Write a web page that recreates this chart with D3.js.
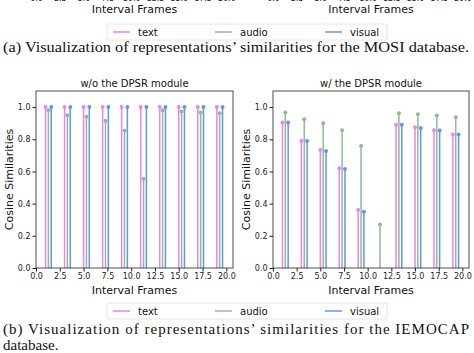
<!DOCTYPE html>
<html>
<head>
<meta charset="utf-8">
<script src="https://cdn.jsdelivr.net/npm/d3@7"></script>
<style>
body{margin:0;background:#fff;}
svg{display:block;}
.tick text{font-family:"DejaVu Sans",sans-serif;font-size:8px;fill:#222;}
.tick line{stroke:#222;}
.lab{font-family:"DejaVu Sans",sans-serif;fill:#111;}
.cap{font-family:"Liberation Serif","DejaVu Serif",serif;fill:#111;}
</style>
</head>
<body>
<svg id="fig" width="474" height="353"></svg>
<script>
var frames=[1,3,5,7,9,11,13,15,17,19];
var modalities=["text","audio","visual"];
var colors={text:"#ee82ee",audio:"#8fbc8f",visual:"#6495ed"};
var offsets={text:0,audio:0.3,visual:0.6};

// w/o the DPSR module
var woText  =[1,1,1,1,1,1,1,1,1,1];
var woAudio =[0.98,0.95,0.94,0.915,0.855,0.555,0.98,0.973,0.967,0.962];
var woVisual=[1,1,1,1,1,1,1,1,1,1];
// w/ the DPSR module
var wText  =[0.905,0.79,0.733,0.62,0.36,null,0.89,0.875,0.856,0.83];
var wAudio =[0.967,0.925,0.9,0.856,0.758,0.27,0.962,0.956,0.948,0.937];
var wVisual=[0.905,0.79,0.727,0.615,0.35,null,0.89,0.87,0.854,0.83];

var xTicks=[0,2.5,5,7.5,10,12.5,15,17.5,20];
var yTicks=[0,0.2,0.4,0.6,0.8,1.0];

var svg=d3.select("#fig");
var fmt=d3.format(".1f");

function panel(left,right,title,series){
	var top=91,bottom=268;
	var x=d3.scaleLinear().domain([0,20.7]).range([left,right]);
	var y=d3.scaleLinear().domain([0,1.1]).range([bottom,top]);
	var g=svg.append("g");

	modalities.forEach(function(m){
		var pts=[];
		series[m].forEach(function(v,i){ if(v!==null) pts.push({x:frames[i]+offsets[m],v:v}); });
		g.selectAll(".stem-"+m).data(pts).enter().append("line")
			.attr("x1",function(d){return x(d.x);}).attr("x2",function(d){return x(d.x);})
			.attr("y1",y(0)).attr("y2",function(d){return y(d.v);})
			.attr("stroke",colors[m]).attr("stroke-width",1.5);
		g.selectAll(".dot-"+m).data(pts).enter().append("circle")
			.attr("cx",function(d){return x(d.x);}).attr("cy",function(d){return y(d.v);})
			.attr("r",2).attr("fill",colors[m]);
	});

	g.append("rect").attr("x",left).attr("y",top).attr("width",right-left).attr("height",bottom-top)
		.attr("fill","none").attr("stroke","#222").attr("stroke-width",0.8);

	g.append("g").attr("transform","translate(0,"+bottom+")")
		.call(d3.axisBottom(x).tickValues(xTicks).tickFormat(fmt).tickSize(3.5).tickSizeOuter(0).tickPadding(2))
		.call(function(a){a.select(".domain").remove();});
	g.append("g").attr("transform","translate("+left+",0)")
		.call(d3.axisLeft(y).tickValues(yTicks).tickFormat(fmt).tickSize(3.5).tickSizeOuter(0).tickPadding(2))
		.call(function(a){a.select(".domain").remove();});

	g.append("text").attr("class","lab").attr("x",(left+right)/2).attr("y",top-4)
		.attr("text-anchor","middle").style("font-size","10px").text(title);
	g.append("text").attr("class","lab").attr("x",(left+right)/2).attr("y",294)
		.attr("text-anchor","middle").style("font-size","11px").text("Interval Frames");
	g.append("text").attr("class","lab")
		.attr("transform","translate("+(left-23)+","+((top+bottom)/2)+") rotate(-90)")
		.attr("text-anchor","middle").style("font-size","11px").text("Cosine Similarities");

	// bottom of the panels above (cut at the top edge)
	var gt=svg.append("g").attr("transform","translate(0,-278)");
	gt.append("g").attr("transform","translate(0,"+bottom+")")
		.call(d3.axisBottom(x).tickValues(xTicks).tickFormat(fmt).tickSize(3.5).tickSizeOuter(0).tickPadding(2))
		.call(function(a){a.select(".domain").remove();});
	svg.append("text").attr("class","lab").attr("x",(left+right)/2).attr("y",13)
		.attr("text-anchor","middle").style("font-size","11px").text("Interval Frames");
}

panel(36,233,"w/o the DPSR module",{text:woText,audio:woAudio,visual:woVisual});
panel(273,469,"w/ the DPSR module",{text:wText,audio:wAudio,visual:wVisual});

function legend(cy){
	var g=svg.append("g");
	g.append("rect").attr("x",107).attr("y",cy-8).attr("width",280).attr("height",16).attr("rx",2)
		.attr("fill","#fff").attr("stroke","#ddd").attr("stroke-width",0.8);
	var xs=[113,215,325];
	modalities.forEach(function(m,i){
		g.append("line").attr("x1",xs[i]).attr("x2",xs[i]+17).attr("y1",cy).attr("y2",cy)
			.attr("stroke",colors[m]).attr("stroke-width",1.5);
		g.append("text").attr("class","lab").attr("x",xs[i]+25).attr("y",cy+4)
			.style("font-size","10px").text(m);
	});
}
legend(32);
legend(311);

svg.append("text").attr("class","cap").attr("x",3).attr("y",52).style("font-size","15px")
	.attr("textLength",466).attr("lengthAdjust","spacingAndGlyphs")
	.text("(a) Visualization of representations\u2019 similarities for the MOSI database.");
svg.append("text").attr("class","cap").attr("x",3).attr("y",334).style("font-size","15px")
	.attr("textLength",466).attr("lengthAdjust","spacing")
	.text("(b) Visualization of representations\u2019 similarities for the IEMOCAP");
svg.append("text").attr("class","cap").attr("x",3).attr("y",350).style("font-size","15px")
	.text("database.");
</script>
</body>
</html>
